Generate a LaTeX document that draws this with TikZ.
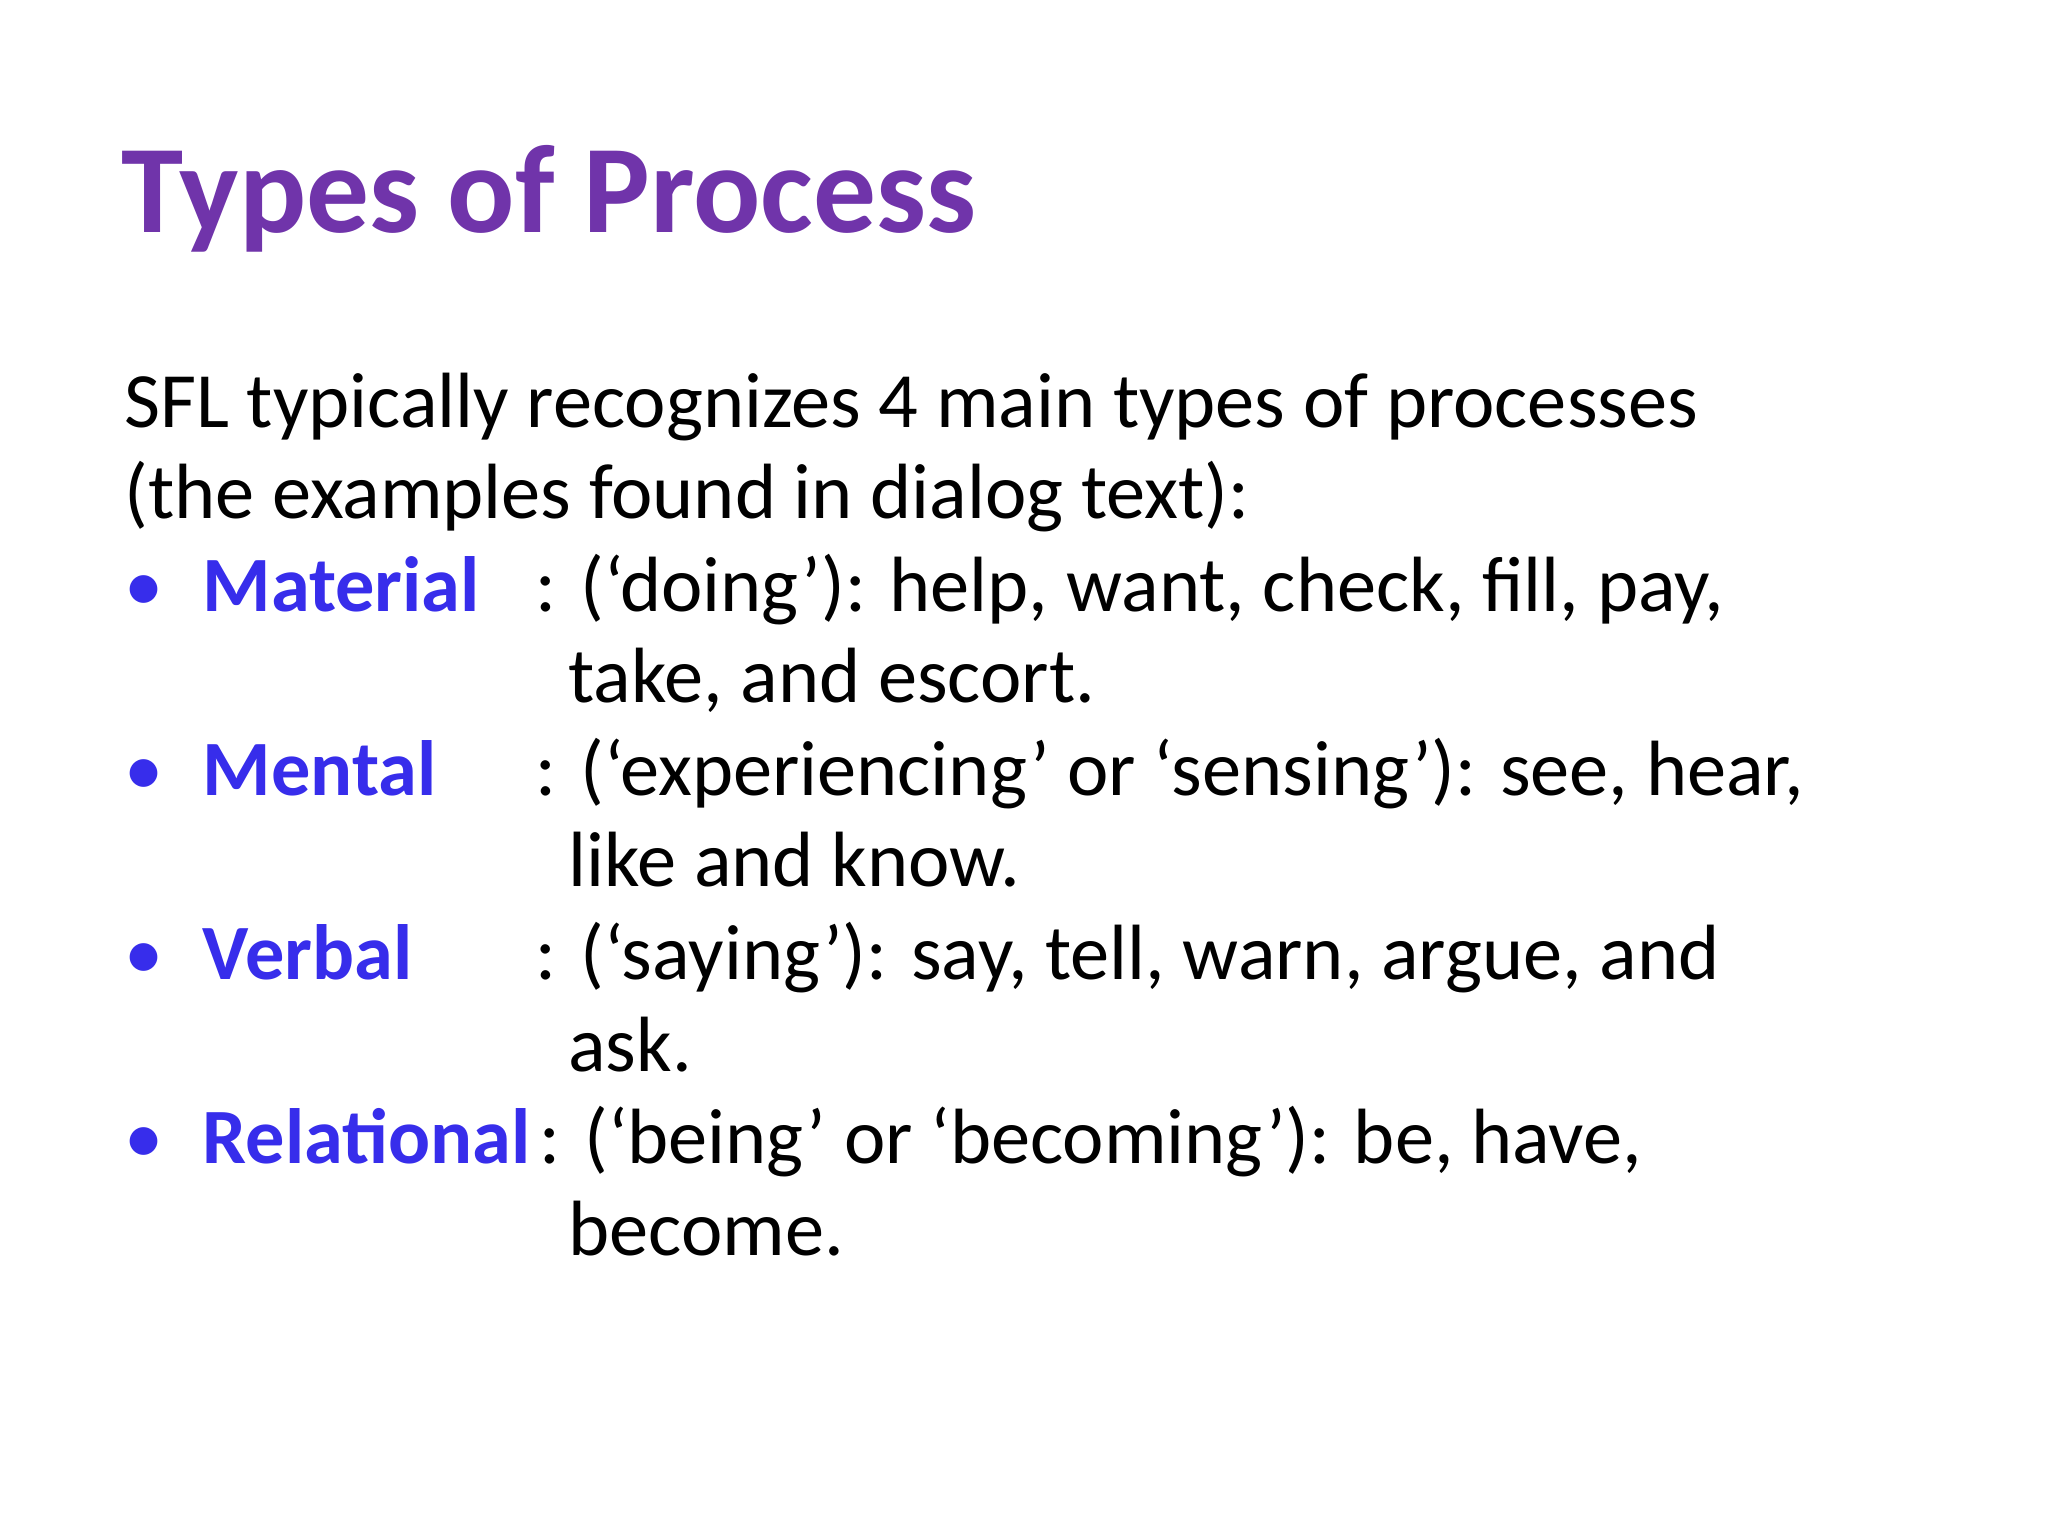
\documentclass[tikz,border=0pt]{standalone}
\usepackage{fontspec}
\setmainfont{Carlito}
\definecolor{ttl}{RGB}{112,52,170}
\definecolor{lbl}{RGB}{55,45,235}
\begin{document}
\begin{tikzpicture}[x=1pt,y=1pt,
  body/.style={anchor=base west,inner sep=0pt,font=\fontsize{60}{70}\selectfont},
  lab/.style={body,text=lbl,font=\fontsize{60}{70}\selectfont\bfseries}]
\useasboundingbox (0,0) rectangle (1568,-1176);
\fill[white] (0,0) rectangle (1568,-1176);
\node[anchor=base west,inner sep=0pt,text=ttl,font=\fontsize{96}{110}\selectfont\bfseries] (title) at (93,-178) {Types of Process};
\node[body] (l1) at (95,-327) {SFL typically recognizes 4 main types of processes};
\node[body] (l2) at (95,-397) {(the examples found in dialog text):};
\foreach \y/\n/\lt/\cx/\ta/\tb in {
  468/a/Material/410/{(‘doing’): help, want, check, fill, pay,}/{take, and escort.},
  609/b/Mental/410/{(‘experiencing’ or ‘sensing’): see, hear,}/{like and know.},
  750/c/Verbal/410/{(‘saying’): say, tell, warn, argue, and}/{ask.},
  891/d/Relational/413/{(‘being’ or ‘becoming’): be, have,}/{become.}}{
  \node[body,text=lbl] (b\n) at (95,-\y) {•};
  \node[lab] (n\n) at (155,-\y) {\lt};
  \node[body] (c\n) at (\cx,-\y) {: \ta};
  \node[body] (t\n) at (435,-\y-70) {\tb};
}
\end{tikzpicture}
\end{document}
